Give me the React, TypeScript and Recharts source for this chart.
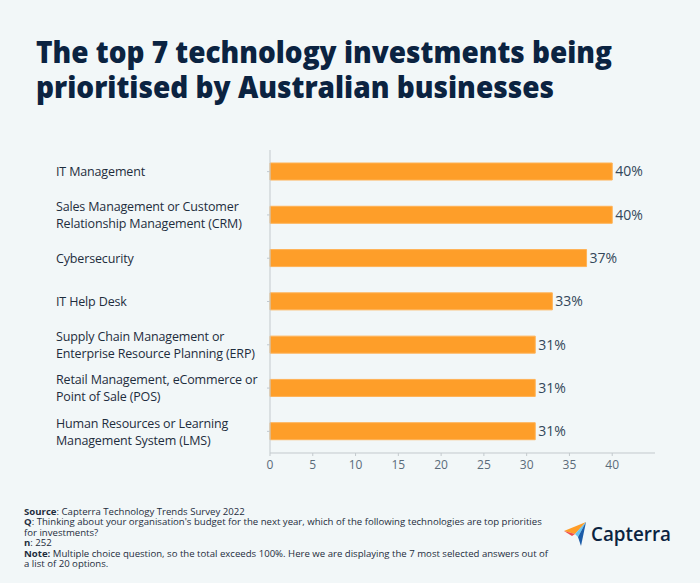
import { BarChart, Bar, XAxis, YAxis, LabelList } from "recharts";

const categories = [
    "IT Management",
    "Sales Management or Customer\nRelationship Management (CRM)",
    "Cybersecurity",
    "IT Help Desk",
    "Supply Chain Management or\nEnterprise Resource Planning (ERP)",
    "Retail Management, eCommerce or\nPoint of Sale (POS)",
    "Human Resources or Learning\nManagement System (LMS)",
];
const values = [40, 40, 37, 33, 31, 31, 31];
const xTicks = [0, 5, 10, 15, 20, 25, 30, 35, 40];

const titleLines = [
    "The top 7 technology investments being",
    "prioritised by Australian businesses",
];

const footerLines: [string, string][] = [
    ["Source", ": Capterra Technology Trends Survey 2022"],
    ["Q", ": Thinking about your organisation's budget for the next year, which of the following technologies are top priorities"],
    ["", "for investments?"],
    ["n", ": 252"],
    ["Note:", " Multiple choice question, so the total exceeds 100%. Here we are displaying the 7 most selected answers out of"],
    ["", "a list of 20 options."],
];

const data = categories.map((c, i) => ({ name: c, value: values[i] }));

const navy = "#0b2341";
const font = "'Open Sans', sans-serif";

function CategoryTick(props: any) {
    const { y, payload } = props;
    const lines = String(payload.value).split("\n");
    const start = -((lines.length - 1) * 17) / 2;
    return (
        <text x={56} y={y} fontSize={12.5} letterSpacing={-0.15} fill="#1e2d3d" fontFamily={font} textAnchor="start">
            {lines.map((l, i) => (
                <tspan key={i} x={56} y={y + start + i * 17} dy="0.38em">
                    {l}
                </tspan>
            ))}
        </text>
    );
}

export default function App() {
    return (
        <div
            style={{
                position: "absolute",
                left: 0,
                top: 0,
                width: 700,
                height: 583,
                background: "#f2f7f8",
                overflow: "hidden",
            }}
        >
            <svg width={700} height={120} style={{ position: "absolute", left: 0, top: 0 }}>
                {titleLines.map((t, i) => (
                    <text
                        key={i}
                        x={36}
                        y={63 + i * 35}
                        fontSize={30}
                        fontWeight={800}
                        fontFamily={font}
                        fill={navy}
                        textLength={i === 0 ? 576 : 518}
                        lengthAdjust="spacingAndGlyphs"
                    >
                        {t}
                    </text>
                ))}
            </svg>

            <div style={{ position: "absolute", left: 0, top: 0 }}>
                <BarChart
                    width={700}
                    height={500}
                    data={data}
                    layout="vertical"
                    margin={{ top: 150, right: 45, left: 56, bottom: 17 }}
                >
                    <XAxis
                        type="number"
                        domain={[0, 45]}
                        ticks={xTicks}
                        height={30}
                        tickSize={3}
                        tickMargin={4}
                        stroke="#c3c9cd"
                        tick={{ fill: "#5b6b7a", fontSize: 12, fontFamily: font }}
                    />
                    <YAxis
                        type="category"
                        dataKey="name"
                        width={214}
                        tickSize={3}
                        stroke="#c3c9cd"
                        tick={<CategoryTick />}
                        interval={0}
                    />
                    <Bar
                        dataKey="value"
                        fill="#fe9e29"
                        stroke="#ffb255"
                        strokeWidth={1}
                        barSize={17}
                        isAnimationActive={false}
                    >
                        <LabelList
                            dataKey="value"
                            position="right"
                            offset={3}
                            formatter={(v: any) => `${v}%`}
                            style={{ fill: "#34475a", fontSize: 14, fontFamily: font }}
                        />
                    </Bar>
                </BarChart>
            </div>

            <svg width={700} height={90} style={{ position: "absolute", left: 0, top: 493 }}>
                {footerLines.map(([b, r], i) => (
                    <text key={i} x={24} y={22 + i * 10.4} fontSize={9.6} fontFamily={font} fill="#1e2d3d">
                        {b && <tspan fontWeight={700}>{b}</tspan>}
                        <tspan>{r}</tspan>
                    </text>
                ))}
                <polygon points="564,38 586,29 575,41" fill="#ff9d28" />
                <polygon points="564,38 575,41 572,43" fill="#ef4b4b" />
                <polygon points="586,29 575,41 578,44" fill="#68c5f0" />
                <polygon points="578,44 586,29 581,53" fill="#1c5ca8" />
                <text
                    x={591}
                    y={48}
                    fontSize={19}
                    fontWeight={600}
                    fontFamily={font}
                    fill={navy}
                    textLength={80}
                    lengthAdjust="spacingAndGlyphs"
                >
                    Capterra
                </text>
            </svg>
        </div>
    );
}
